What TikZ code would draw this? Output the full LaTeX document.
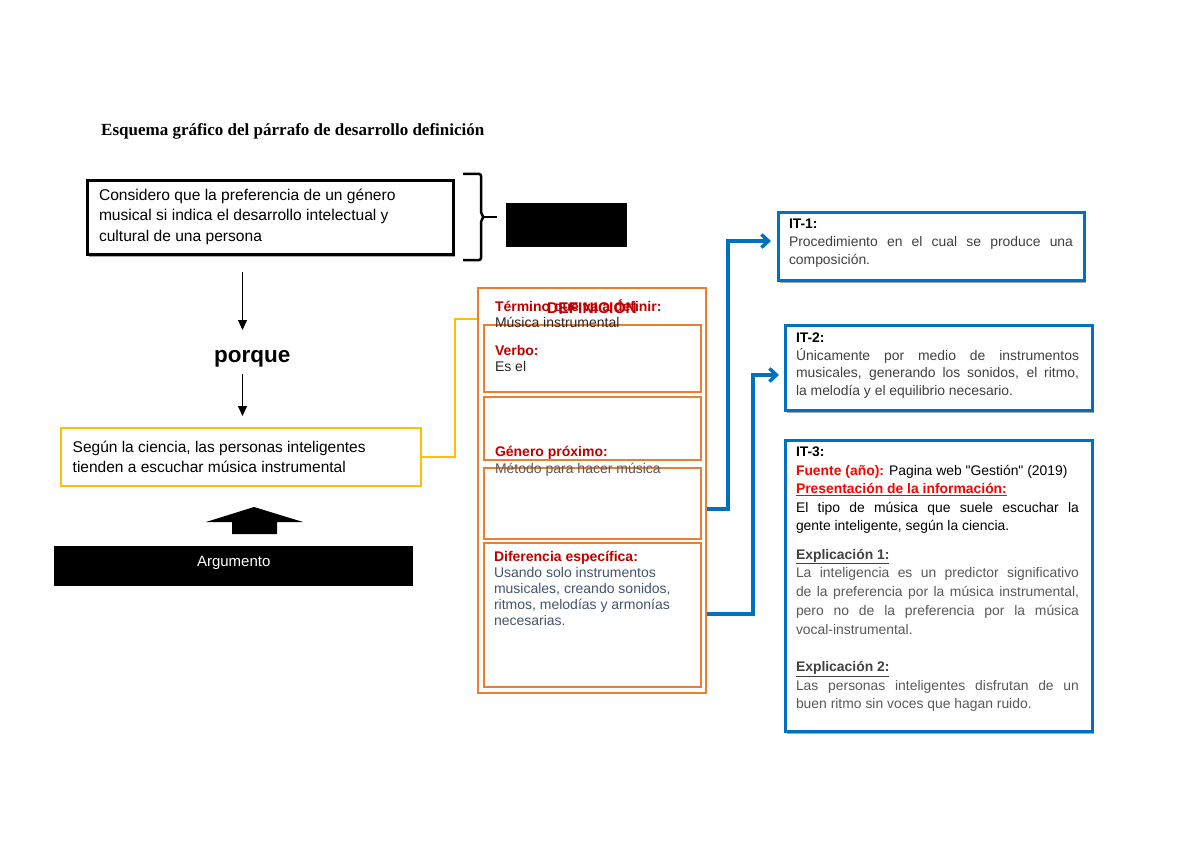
\documentclass[tikz,border=0pt]{standalone}
\usepackage{fontspec}
\setmainfont{Liberation Sans}
\newfontfamily\titlefont{Liberation Serif}
\newfontfamily\qfont{Liberation Sans}[Ligatures=TeXOff]
\usetikzlibrary{arrows.meta,shadows}
\definecolor{orngB}{HTML}{ED7D31}
\definecolor{blueB}{HTML}{0070C0}
\definecolor{yellB}{HTML}{FFC000}
\definecolor{dred}{HTML}{C00000}
\definecolor{txtgray}{HTML}{404040}
\definecolor{txtgray2}{HTML}{595959}
\definecolor{txtblue}{HTML}{44546A}
\definecolor{shadowgray}{HTML}{A6A6A6}
\newcommand\jst[2]{\makebox[#1][s]{#2}}
\begin{document}
\begin{tikzpicture}[x=1pt,y=-1pt,
  txt/.style={anchor=north west, inner sep=0pt, outer sep=0pt, align=left},
  boxk/.style={draw=black, line width=3pt, minimum width=366pt, minimum height=73pt, inner sep=0pt,
     drop shadow={shadow xshift=2pt, shadow yshift=-3pt, fill=shadowgray, opacity=1}},
  boxy/.style={draw=yellB, line width=2pt, inner sep=0pt},
  boxo/.style={draw=orngB, line width=2pt, inner sep=0pt},
  boxb/.style={draw=blueB, line width=3pt, inner sep=0pt, fill=white,
     drop shadow={shadow xshift=2pt, shadow yshift=-3pt, fill=shadowgray, opacity=1}},
  blk/.style={fill=black, inner sep=0pt},
  karrow/.style={line width=1pt, -{Triangle[length=10pt,width=9pt]}},
  bconn/.style={draw=blueB, line width=4pt, -{Straight Barb[length=7pt,width=13pt,line width=3.5pt]}},
  yconn/.style={draw=yellB, line width=2.5pt}
]
\useasboundingbox[fill=white] (0,0) rectangle (1200,848);

% title
\node[anchor=base west, inner sep=0pt, font=\titlefont\fontsize{17}{20}\selectfont\bfseries] (title) at (101,136)
  {Esquema gráfico del párrafo de desarrollo definición};

% box 1
\node[boxk, fill=white] (b1) at (270,217.5) {};
\node[txt, font=\fontsize{15.6}{20.9}\selectfont] (b1t) at (99,185.4)
  {\strut Considero que la preferencia de un género\\musical si indica el desarrollo intelectual y\\cultural de una persona};

% bracket
\draw[line width=2.5pt, rounded corners=2pt] (463,174) -- (481,174) -- (481,214) -- (484,217) -- (481,220) -- (481,260) -- (463,260);
\node[blk, minimum width=15pt, minimum height=2.5pt] (nub) at (489,217) {};
\node[blk, minimum width=121pt, minimum height=44pt] (tagbox) at (566.5,225) {};

% arrows and porque
\coordinate (a1s) at (242.5,272);
\coordinate (a1e) at (242.5,330);
\draw[karrow] (a1s) -- (a1e);
\node[anchor=base, inner sep=0pt, font=\fontsize{22.5}{26}\selectfont\bfseries] (porque) at (252.3,362.3) {porque};
\coordinate (a2s) at (242.5,374);
\coordinate (a2e) at (242.5,416);
\draw[karrow] (a2s) -- (a2e);

% yellow box
\node[boxy, minimum width=360pt, minimum height=58pt] (yb) at (241,457) {};
\node[txt, font=\fontsize{15.5}{20}\selectfont] (ybt) at (72.7,438.7)
  {\strut Según la ciencia, las personas inteligentes\\tienden a escuchar música instrumental};

% block arrow
\fill (206,522) -- (254,507) -- (303,522) -- (277,522) -- (277,534) -- (232,534) -- (232,522) -- cycle;

% Argumento
\node[blk, minimum width=359pt, minimum height=40pt] (arg) at (233.5,566) {};
\node[anchor=base, inner sep=0pt, text=white, font=\fontsize{15}{18}\selectfont] (argt) at (233.7,566.7) {Argumento};

% orange boxes
\node[boxo, minimum width=228pt, minimum height=405pt] (ob) at (592,490.5) {};
\node[boxo, minimum width=217pt, minimum height=67pt] (oi1) at (592.5,358.5) {};
\node[boxo, minimum width=217pt, minimum height=63pt] (oi2) at (592.5,428.5) {};
\node[boxo, minimum width=217pt, minimum height=71pt] (oi3) at (592.5,503.5) {};
\node[boxo, minimum width=217pt, minimum height=144pt] (oi4) at (592.5,615) {};

\node[txt, font=\fontsize{14}{15.5}\selectfont] (ot1) at (495,300.85)
  {\strut\textcolor{dred}{\textbf{Término que va a definir:}}\\\textcolor{black!85}{Música instrumental}};
\node[anchor=base, inner sep=0pt, font=\fontsize{15.5}{18}\selectfont\bfseries, text=dred] (defn) at (592,313) {DEFINICIÓN};
\node[txt, font=\fontsize{14}{16.5}\selectfont] (ot2) at (495,343.45)
  {\strut\textcolor{dred}{\textbf{Verbo:}}\\\textcolor{black!85}{Es el}};
\node[txt, font=\fontsize{14}{16.3}\selectfont] (ot3) at (495,445.3)
  {\strut\textcolor{dred}{\textbf{Género próximo:}}\\\textcolor{txtgray2}{Método para hacer música}};
\node[txt, font=\fontsize{14}{16}\selectfont] (ot4) at (494,549.8)
  {\strut\textcolor{dred}{\textbf{Diferencia específica:}}\\\textcolor{txtblue}{Usando solo instrumentos}\\\textcolor{txtblue}{musicales, creando sonidos,}\\\textcolor{txtblue}{ritmos, melodías y armonías}\\\textcolor{txtblue}{necesarias.}};

% yellow connector
\coordinate (yc) at (455,319);
\draw[yconn] (yb.east) -| (yc) -- (yc -| ob.west);

% blue boxes
\node[boxb, minimum width=306pt, minimum height=68pt] (it1) at (931,246) {};
\node[boxb, minimum width=307pt, minimum height=85pt] (it2) at (938.5,367.5) {};
\node[boxb, minimum width=307pt, minimum height=291pt] (it3) at (938.5,585.5) {};

% blue connectors
\coordinate (s1) at (707,509);
\coordinate (c1) at (728,241);
\coordinate (e1) at (771,241);
\draw[bconn] (s1) -| (c1) -- (e1);
\coordinate (s2) at (707,614);
\coordinate (c2) at (753,375);
\coordinate (e2) at (779,375);
\draw[bconn] (s2) -| (c2) -- (e2);

% IT texts
\node[txt, font=\fontsize{13.9}{18}\selectfont] (it1t) at (789,215.4)
  {\strut\textbf{IT-1:}\\\textcolor{txtgray}{\jst{284pt}{Procedimiento en el cual se produce una}}\\\textcolor{txtgray}{composición.}};
\node[txt, font=\fontsize{13.9}{17.5}\selectfont] (it2t) at (796,330.4)
  {\strut\textbf{IT-2:}\\\textcolor{txtgray}{\jst{283pt}{Únicamente por medio de instrumentos}}\\\textcolor{txtgray}{\jst{283pt}{musicales, generando los sonidos, el ritmo,}}\\\textcolor{txtgray}{la melodía y el equilibrio necesario.}};
\node[txt, font=\fontsize{13.9}{18.5}\selectfont] (it3a) at (796,443.75)
  {\strut\textbf{IT-3:}\\\textcolor{red}{\textbf{Fuente (año):}} Pagina web {\qfont"Gestión"} (2019)\\\textcolor{red}{\textbf{\underline{Presentación de la información:}}}\\\jst{283pt}{El tipo de música que suele escuchar la}\\gente inteligente, según la ciencia.};
\node[txt, font=\fontsize{13.9}{18.75}\selectfont] (it3b) at (796,545.9)
  {\strut\textcolor{txtgray}{\textbf{\underline{Explicación 1:}}}\\\textcolor{txtgray2}{\jst{283pt}{La inteligencia es un predictor significativo}}\\\textcolor{txtgray2}{\jst{283pt}{de la preferencia por la música instrumental,}}\\\textcolor{txtgray2}{\jst{283pt}{pero no de la preferencia por la música}}\\\textcolor{txtgray2}{vocal-instrumental.}};
\node[txt, font=\fontsize{13.9}{18.5}\selectfont] (it3c) at (796,659)
  {\strut\textcolor{txtgray}{\textbf{\underline{Explicación 2:}}}\\\textcolor{txtgray2}{\jst{283pt}{Las personas inteligentes disfrutan de un}}\\\textcolor{txtgray2}{buen ritmo sin voces que hagan ruido.}};
\end{tikzpicture}
\end{document}
